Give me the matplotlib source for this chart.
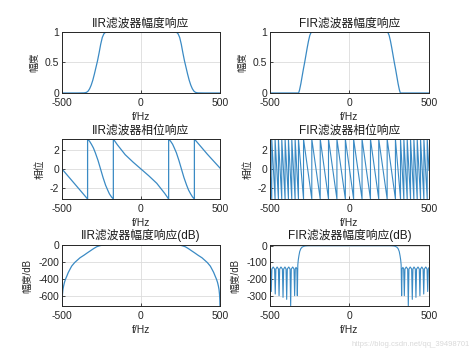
import numpy as np
import matplotlib
matplotlib.use('Agg')
import matplotlib.pyplot as plt

plt.rcParams['font.family'] = ['Liberation Sans', 'Noto Sans CJK SC']
plt.rcParams['axes.unicode_minus'] = False

LINE_COLOR = '#3a8ac4'
BOX_COLOR = '#262626'
PI = np.pi

#  =========================================
#  	   Data
#  	   (left half, mirrored for the right half)
#  =========================================

iirMagF = [-500, -400, -360, -345, -335, -325, -315, -305, -295, -285, -275, -265, -255, -245, -235, -225, -215, 0]
iirMag = [0, 0, 0.002, 0.01, 0.03, 0.07, 0.13, 0.21, 0.31, 0.42, 0.53, 0.66, 0.8, 0.91, 0.97, 0.995, 1.0, 1.0]

firMagF = [-500, -320, -314, -306, -298, -290, -282, -274, -266, -258, -250, -244, -238, 0]
firMag = [0, 0, 0.05, 0.15, 0.27, 0.39, 0.5, 0.62, 0.74, 0.85, 0.94, 0.98, 1.0, 1.0]

iirDbF = [-500, -499, -497, -494, -490, -485, -478, -470, -460, -450, -439, -420, -400, -386, -360, -340, -323, -300, -280, -260, -245, -230, 0]
iirDb = [-712, -640, -575, -520, -480, -440, -400, -365, -320, -285, -247, -205, -172, -149, -118, -92, -71, -42, -20, -8, -2, 0, 0]

firDbF = [-500, -496, -492, -488, -480, -471, -467, -463, -455, -447, -443, -439, -431, -422, -418, -414,
          -406, -399, -395, -391, -382, -374, -370, -366, -357, -349, -345, -341, -336, -331, -328, -325,
          -322, -318, -313, -306, -298, -288, -278, -264, -250, 0]
firDb = [-132, -140, -275, -140, -128, -140, -290, -140, -128, -140, -300, -140, -128, -140, -310, -140,
         -128, -140, -322, -140, -128, -140, -360, -140, -128, -140, -300, -140, -130, -140, -300, -115,
         -85, -60, -35, -18, -9, -4, -1.5, -0.3, 0, 0]

# IIR phase, whole range (wraps at about +-175 and +-338 Hz)
iirPhaseF = [-500, -420, -338, -338, -326, -314, -301, -289, -272, -256, -240, -224, -211, -200, -187, -175,
             -175, -150, -100, -50, 0, 50, 100, 150, 175,
             175, 187, 200, 211, 224, 240, 256, 272, 289, 301, 314, 326, 338,
             338, 420, 500]
iirPhase = [0, -1.55, -PI, PI, 2.92, 2.6, 2.2, 1.7, 0.9, 0, -0.9, -1.7, -2.2, -2.6, -2.92, -PI,
            PI, 2.55, 1.5, 0.72, 0, -0.72, -1.5, -2.55, -PI,
            PI, 2.92, 2.6, 2.2, 1.7, 0.9, 0, -0.9, -1.7, -2.2, -2.6, -2.92, -PI,
            PI, 1.55, 0.1]

# FIR phase: frequencies where the wrapped phase jumps from -pi to pi
firWraps = [-489, -468, -447, -426, -405, -384, -363, -342, -321, -289, -237, -184, -132, -79, -26,
            26, 79, 132, 184, 237, 289, 321, 342, 363, 384, 405, 426, 447, 468, 489]
firPhaseStart, firPhaseEnd = 0.15, -0.15

titles = ['IIR滤波器幅度响应', 'FIR滤波器幅度响应', 'IIR滤波器相位响应', 'FIR滤波器相位响应',
          'IIR滤波器幅度响应(dB)', 'FIR滤波器幅度响应(dB)']


def mirrorEven(f, v):
    f = np.asarray(f, float); v = np.asarray(v, float)
    return np.concatenate([f, -f[::-1][1:]]), np.concatenate([v, v[::-1][1:]])


def sawtooth(wraps, start, end):
    x = [-500]; y = [start]
    for w in wraps:
        x += [w, w]; y += [-PI, PI]
    x.append(500); y.append(end)
    return x, y


def styleAxes(ax, title, ylabel, yticks, yticklabels, ylim):
    ax.set_xlim(-500, 500); ax.set_ylim(*ylim)
    ax.set_xticks([-500, 0, 500]); ax.set_xticklabels(['-500', '0', '500'])
    ax.set_yticks(yticks); ax.set_yticklabels(yticklabels)
    ax.set_title(title, fontsize=8.5, pad=4, color='#1a1a1a')
    ax.set_xlabel('f/Hz', fontsize=7.5, labelpad=3, color=BOX_COLOR)
    ax.set_ylabel(ylabel, fontsize=7, labelpad=4, color=BOX_COLOR)
    ax.tick_params(direction='in', length=2.5, width=0.6, labelsize=7.5, pad=2, colors=BOX_COLOR)
    ax.tick_params(axis='x', pad=3.5)
    ax.grid(True, color='#dcdcdc', linewidth=0.6)
    ax.set_axisbelow(True)
    for s in ax.spines.values():
        s.set_color(BOX_COLOR); s.set_linewidth(0.7)


fig = plt.figure(figsize=(4.74, 3.56), dpi=100)
COLS = [(0.1308, 0.3333), (0.5696, 0.3354)]
ROWS = [(0.7388, 0.1713), (0.4410, 0.1685), (0.1404, 0.1714)]
axs = [[fig.add_axes([c[0], r[0], c[1], r[1]]) for c in COLS] for r in ROWS]

# Row 1: linear magnitude
x, y = mirrorEven(iirMagF, iirMag)
axs[0][0].plot(x, y, color=LINE_COLOR, lw=0.9)
x, y = mirrorEven(firMagF, firMag)
axs[0][1].plot(x, y, color=LINE_COLOR, lw=0.9)
for j in range(2):
    styleAxes(axs[0][j], titles[j], '幅度', [0, 0.5, 1], ['0', '0.5', '1'], (0, 1))

# Row 2: phase
axs[1][0].plot(iirPhaseF, iirPhase, color=LINE_COLOR, lw=0.9)
x, y = sawtooth(firWraps, firPhaseStart, firPhaseEnd)
axs[1][1].plot(x, y, color=LINE_COLOR, lw=0.8)
for j in range(2):
    styleAxes(axs[1][j], titles[2 + j], '相位', [-2, 0, 2], ['-2', '0', '2'], (-PI, PI))

# Row 3: magnitude in dB
x, y = mirrorEven(iirDbF, iirDb)
axs[2][0].plot(x, y, color=LINE_COLOR, lw=0.9)
styleAxes(axs[2][0], titles[4], '幅度/dB', [-600, -400, -200, 0], ['-600', '-400', '-200', '0'], (-712, 0))
x, y = mirrorEven(firDbF, firDb)
axs[2][1].plot(x, y, color=LINE_COLOR, lw=0.8)
styleAxes(axs[2][1], titles[5], '幅度/dB', [-300, -200, -100, 0], ['-300', '-200', '-100', '0'], (-362, 4))

fig.text(0.99, 0.022, 'https://blog.csdn.net/qq_39498701', ha='right', va='bottom', fontsize=5.5, color='#d9d9d9')

fig.savefig('out.png', dpi=100)
